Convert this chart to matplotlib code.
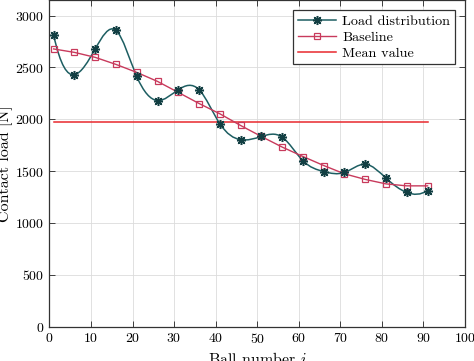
import numpy as np
import matplotlib
matplotlib.use("Agg")
import matplotlib.pyplot as plt
from matplotlib.path import Path
from matplotlib.patches import PathPatch
from matplotlib.lines import Line2D

plt.rcParams['font.family'] = ['cmr10', 'DejaVu Serif']
plt.rcParams['mathtext.fontset'] = 'cm'
plt.rcParams['axes.formatter.use_mathtext'] = True

ball = [1, 6, 11, 16, 21, 26, 31, 36, 41, 46, 51, 56, 61, 66, 71, 76, 81, 86, 91]
load = [2812, 2430, 2678, 2857, 2413, 2181, 2285, 2285, 1957, 1803, 1834, 1828,
        1600, 1496, 1487, 1567, 1432, 1294, 1313]
baseline = [2678, 2645, 2597, 2529, 2452, 2365, 2259, 2152, 2053, 1940, 1834, 1732,
            1641, 1554, 1474, 1420, 1377, 1358, 1358]
mean_value = 1970
xticks = [0, 10, 20, 30, 40, 50, 60, 70, 80, 90, 100]
yticks = [0, 500, 1000, 1500, 2000, 2500, 3000]

c_load = '#1d5e62'
c_mark = '#123f43'
c_base = '#c83a5c'
c_mean = '#e8282e'


def spline_path(x, y):
    x = np.asarray(x, float); y = np.asarray(y, float)
    n = len(x)
    h = np.diff(x)
    d = np.diff(y) / h
    A = np.zeros((n, n)); b = np.zeros(n)
    A[0, 0], A[0, 1], A[0, 2] = h[1], -(h[0] + h[1]), h[0]
    A[-1, -3], A[-1, -2], A[-1, -1] = h[-1], -(h[-2] + h[-1]), h[-2]
    for i in range(1, n - 1):
        A[i, i - 1] = h[i - 1]
        A[i, i] = 2 * (h[i - 1] + h[i])
        A[i, i + 1] = h[i]
        b[i] = 6 * (d[i] - d[i - 1])
    M = np.linalg.solve(A, b)
    m = np.empty(n)
    m[:-1] = d - h * (2 * M[:-1] + M[1:]) / 6
    m[-1] = d[-1] + h[-1] * (M[-2] + 2 * M[-1]) / 6
    verts = [(x[0], y[0])]
    codes = [Path.MOVETO]
    for i in range(n - 1):
        verts += [(x[i] + h[i] / 3, y[i] + m[i] * h[i] / 3),
                  (x[i + 1] - h[i] / 3, y[i + 1] - m[i + 1] * h[i] / 3),
                  (x[i + 1], y[i + 1])]
        codes += [Path.CURVE4] * 3
    return Path(verts, codes)


fig = plt.figure(figsize=(4.74, 3.61), dpi=100)
ax = fig.add_axes([0.1044, 0.095, 0.8766, 0.905])

star = (8, 2, 0)
ax.add_patch(PathPatch(spline_path(ball, load), facecolor='none', edgecolor=c_load, lw=1.1, zorder=3))
ax.plot(ball, load, linestyle='none', marker=star, color=c_mark, markersize=6.5,
        markeredgewidth=1.1, zorder=4)
ax.plot(ball, baseline, color=c_base, lw=1.0, marker='s', markersize=5,
        markerfacecolor='none', markeredgecolor=c_base, markeredgewidth=0.9, zorder=3)
ax.plot([ball[0], ball[-1]], [mean_value, mean_value], color=c_mean, lw=1.1, zorder=2)

ax.set_xlim(0, 100)
ax.set_ylim(0, 3150)
ax.set_xticks(xticks)
ax.set_yticks(yticks)
ax.tick_params(direction='in', top=True, right=True, labelsize=10, length=4, width=0.6,
               colors='#222222', labelcolor='black')
ax.grid(True, color='#dcdcdc', lw=0.6)
ax.set_axisbelow(True)
for s in ax.spines.values():
    s.set_linewidth(0.9)
    s.set_color('#333333')

ax.set_xlabel('Ball number $i$', fontsize=11.5, labelpad=4)
ax.set_ylabel('Contact load [N]', fontsize=11.5, labelpad=2)

handles = [Line2D([], [], color=c_load, lw=1.1, marker=star, markersize=6.5, markeredgecolor=c_mark, markeredgewidth=1.1),
           Line2D([], [], color=c_base, lw=1.0, marker='s', markersize=5, markerfacecolor='none', markeredgewidth=0.9),
           Line2D([], [], color=c_mean, lw=1.1)]
leg = ax.legend(handles, ['Load distribution', 'Baseline', 'Mean value'], loc='upper right',
                bbox_to_anchor=(0.976, 0.969), fontsize=10.2, fancybox=False, framealpha=1,
                edgecolor='#333333', handlelength=2.7, borderpad=0.35, labelspacing=0.2,
                handletextpad=0.4, borderaxespad=0.0)
leg.get_frame().set_linewidth(0.9)

fig.savefig('out.png', dpi=100)
